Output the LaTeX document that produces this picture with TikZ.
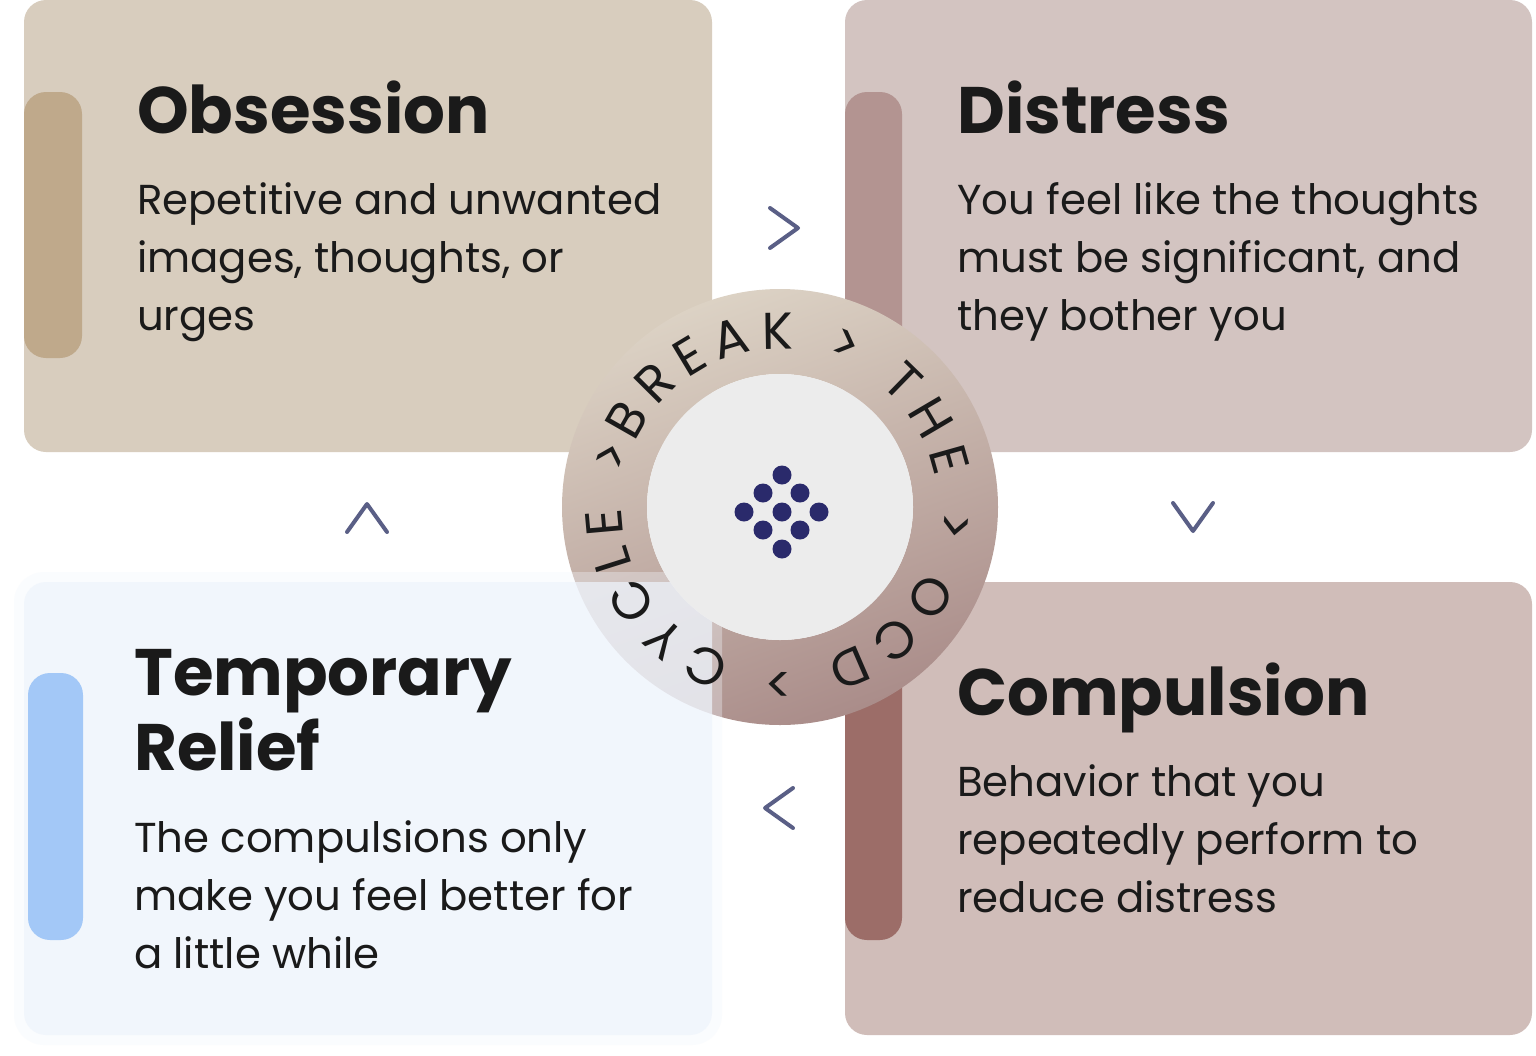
\documentclass[tikz,border=0pt]{standalone}
\usepackage{fontspec}
\setmainfont{Poppins}
\usetikzlibrary{decorations.text,calc}
\definecolor{obsbg}{HTML}{D8CDBE}\definecolor{obsbar}{HTML}{BFA98B}
\definecolor{disbg}{HTML}{D3C4C1}\definecolor{disbar}{HTML}{B39491}
\definecolor{combg}{HTML}{D0BDB9}\definecolor{combar}{HTML}{9C6D68}
\definecolor{relbg}{HTML}{EEF4FC}\definecolor{relbar}{HTML}{A3C8F7}
\definecolor{chev}{HTML}{5A5F86}\definecolor{dotc}{HTML}{2A2A6B}
\definecolor{txt}{HTML}{1A1A1A}
\tikzset{
 x=1bp,y=-1bp,
 ttl/.style={anchor=base west,inner sep=0,text=txt,font=\fontsize{66}{66}\bfseries\selectfont},
 bdy/.style={anchor=base west,inner sep=0,text=txt,font=\fontsize{42}{58}\selectfont,align=left},
 chevl/.style={draw=chev,line width=4bp,line cap=round,line join=round},
 dotn/.style={circle,fill=dotc,inner sep=0,minimum size=19bp}
}
\begin{document}
\begin{tikzpicture}
\useasboundingbox (0,0) rectangle (1536,1055);
\fill[white] (0,0) rectangle (1536,1055);
% boxes
\fill[obsbg,rounded corners=22bp] (24,0) rectangle (712,452);
\fill[obsbar,rounded corners=22bp] (24,92) rectangle (82,358);
\fill[disbg,rounded corners=22bp] (845,0) rectangle (1532,452);
\fill[disbar,rounded corners=22bp] (845,92) rectangle (902,400);
\fill[combg,rounded corners=22bp] (845,582) rectangle (1532,1035);
\fill[combar,rounded corners=22bp] (845,640) rectangle (902,940);
% ring
\coordinate (c) at (780,507);
\shade[even odd rule,left color=obsbg!90!white,right color=disbar!95!black,shading angle=20]
  (c) circle[radius=218] (c) circle[radius=133];
% relief box
\fill[relbg!70!white,opacity=0.35,rounded corners=30bp] (14,572) rectangle (722,1045);
\fill[relbg,opacity=0.72,rounded corners=22bp] (24,582) rectangle (712,1035);
\fill[relbar,rounded corners=22bp] (28,673) rectangle (83,940);
\path[decorate,decoration={text along path,text align=fit to path,
  text={|\fontsize{52}{52}\selectfont\color{txt}|BREAK > THE > OCD > CYCLE > }}]
  (780,507) ++(-156:158) arc[start angle=-156,end angle=202,radius=158];
\fill[gray!15] (c) circle[radius=133];
% dots
\foreach \p [count=\i] in {(782,475),(763,493),(800,493),(744,512),(782,512),(819,512),(763,530),(800,530),(782,549)}
  \node[dotn] (d\i) at \p {};
% texts
\node[ttl] (t1) at (137,133) {Obsession};
\node[bdy] (b1) at (137,330) {Repetitive and unwanted\\images, thoughts, or\\urges};
\node[ttl] (t2) at (957,133) {Distress};
\node[bdy] (b2) at (957,330) {You feel like the thoughts\\must be significant, and\\they bother you};
\node[ttl] (t3) at (957,715) {Compulsion};
\node[bdy] (b3) at (957,912) {Behavior that you\\repeatedly perform to\\reduce distress};
\node[ttl] (t4) at (134,695) {Temporary};
\node[ttl] (t4b) at (134,770) {Relief};
\node[bdy] (b4) at (134,968) {The compulsions only\\make you feel better for\\a little while};
% chevrons
\coordinate (a1) at (798,228); \draw[chevl] ($(a1)+(-28,-20)$) -- (a1) -- ++(-28,20);
\coordinate (a2) at (1193,531); \draw[chevl] ($(a2)+(-20,-28)$) -- (a2) -- ++(20,-28);
\coordinate (a3) at (765,808); \draw[chevl] ($(a3)+(28,-20)$) -- (a3) -- ++(28,20);
\coordinate (a4) at (367,504); \draw[chevl] ($(a4)+(-20,28)$) -- (a4) -- ++(20,28);
\end{tikzpicture}
\end{document}
